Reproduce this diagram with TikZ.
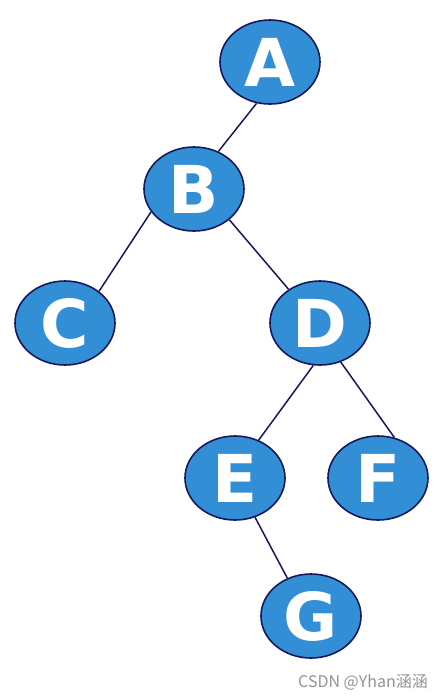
\documentclass[tikz,border=0pt]{standalone}
\usepackage{fontspec}
\usepackage{xcolor}
\usetikzlibrary{shapes.geometric}
\newfontfamily\letrafont{DejaVu Sans}
\newfontfamily\cjkfont{Noto Sans CJK SC}
\definecolor{azulno}{RGB}{51,143,213}
\definecolor{marinho}{RGB}{22,24,92}
\begin{document}
\begin{tikzpicture}[
        x=0.5pt, y=-0.5pt,
        no/.style={ellipse, draw=marinho, line width=0.8pt, fill=azulno,
            minimum width=50pt, minimum height=42pt, inner sep=0pt,
            text=white, font=\letrafont\bfseries\fontsize{33}{33}\selectfont},
        aresta/.style={draw=marinho, line width=0.75pt}
    ]
        \useasboundingbox (0,0) rectangle (440,698);
        % Nos da arvore
        \foreach \nome/\x/\y in {A/270/62, B/194/189, C/65/323, D/320/323,
                                 E/235/478, F/378/478, G/311/616} {
            \node[no] (\nome) at (\x,\y) {\nome};
        }
        % Arestas
        \foreach \de/\a/\para/\b in {A/-108/B/57, B/-152/C/43, B/-41/D/133,
                                     D/-99/E/58, D/-62/F/68, E/-63/G/122} {
            \draw[aresta] (\de.\a) -- (\para.\b);
        }
        % Marca d'agua
        \node[font=\cjkfont\fontsize{8}{9}\selectfont, text=gray!85] (marca) at (363,682) {CSDN @Yhan涵涵};
    \end{tikzpicture}
\end{document}
